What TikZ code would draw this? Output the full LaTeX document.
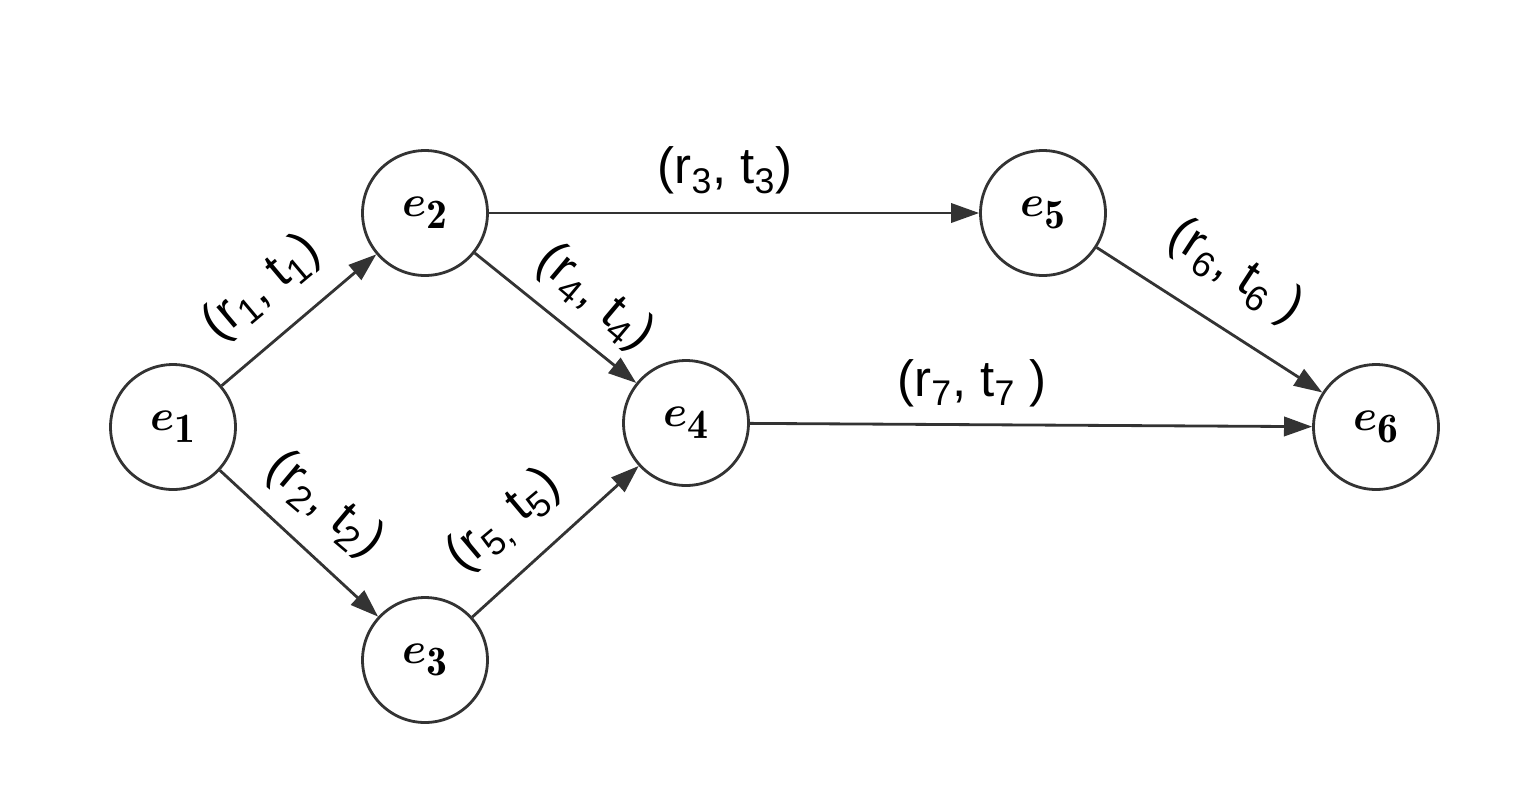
\documentclass[tikz,border=0pt]{standalone}
\usepackage{fontspec}
\usepackage{amsmath}
\newfontfamily\lab{Liberation Sans}
\usetikzlibrary{arrows.meta}
\begin{document}
\begin{tikzpicture}[x=0.02cm,y=-0.02cm,
  ent/.style={circle,draw=black!80,line width=1.6pt,minimum size=2.5cm,inner sep=0pt,font=\fontsize{34}{40}\selectfont},
  arr/.style={draw=black!80,line width=1.6pt,-{Triangle[length=16pt,width=11pt]}},
  lb/.style={font=\lab\fontsize{29}{34}\selectfont}]
\useasboundingbox (0,0) rectangle (1514,799);
\node[ent] (e1) at (173,427) {$\boldsymbol{e}_{\mathbf 1}$};
\node[ent] (e2) at (425,213) {$\boldsymbol{e}_{\mathbf 2}$};
\node[ent] (e3) at (425,660) {$\boldsymbol{e}_{\mathbf 3}$};
\node[ent] (e4) at (686,423) {$\boldsymbol{e}_{\mathbf 4}$};
\node[ent] (e5) at (1043,213) {$\boldsymbol{e}_{\mathbf 5}$};
\node[ent] (e6) at (1376,427) {$\boldsymbol{e}_{\mathbf 6}$};
\draw[arr] (e1) -- (e2);
\draw[arr] (e1) -- (e3);
\draw[arr] (e2) -- (e5);
\draw[arr] (e2) -- (e4);
\draw[arr] (e3) -- (e4);
\draw[arr] (e5) -- (e6);
\draw[arr] (e4) -- (e6);
\node[lb,rotate=40] (l1) at (262,288) {(r\textsubscript{1}, t\textsubscript{1})};
\node[lb,rotate=-40] (l2) at (325,505) {(r\textsubscript{2}, t\textsubscript{2})};
\node[lb] (l3) at (725,170) {(r\textsubscript{3}, t\textsubscript{3})};
\node[lb,rotate=-40] (l4) at (595,298) {(r\textsubscript{4}, t\textsubscript{4})};
\node[lb,rotate=40] (l5) at (505,522) {(r\textsubscript{5,} t\textsubscript{5})};
\node[lb,rotate=-33] (l6) at (1235,272) {(r\textsubscript{6}, t\textsubscript{6} )};
\node[lb] (l7) at (972,383) {(r\textsubscript{7}, t\textsubscript{7} )};
\end{tikzpicture}
\end{document}
